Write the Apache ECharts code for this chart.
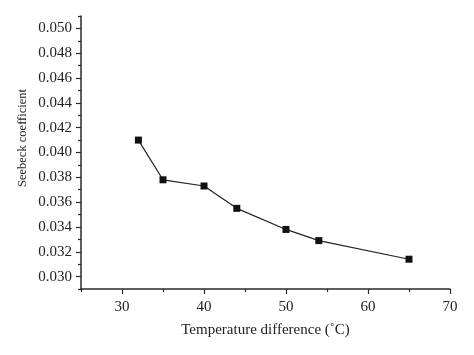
<!DOCTYPE html>
<html>
<head>
<meta charset="utf-8">
<script src="https://cdn.jsdelivr.net/npm/echarts@6/dist/echarts.min.js"></script>
<style>
html,body{margin:0;padding:0;background:#fff;}
#chart{width:474px;height:355px;}
</style>
</head>
<body>
<div id="chart"></div>
<script>
// Data
var temperatureDiff = [32, 35, 40, 44, 50, 54, 65];
var seebeck = [0.0410, 0.0378, 0.0373, 0.0355, 0.0338, 0.0329, 0.0314];

// Tick labels / positions
var xMajorTicks = [30, 40, 50, 60, 70];
var xMinorTicks = [25, 35, 45, 55, 65];
var yMajorTicks = [0.030, 0.032, 0.034, 0.036, 0.038, 0.040, 0.042, 0.044, 0.046, 0.048, 0.050];
var yMinorTicks = [0.029, 0.031, 0.033, 0.035, 0.037, 0.039, 0.041, 0.043, 0.045, 0.047, 0.049, 0.051];

var xTitle = 'Temperature difference (\u02DAC)';
var yTitle = 'Seebeck coefficient';

var FONT = '"Liberation Serif", "DejaVu Serif", serif';
var AX = '#2a2a2a';

var chart = echarts.init(document.getElementById('chart'), null, {renderer: 'canvas'});
var pts = temperatureDiff.map(function (t, i) { return [t, seebeck[i]]; });

chart.setOption({
  animation: false,
  backgroundColor: '#ffffff',
  grid: {left: 81, right: 24, top: 16, bottom: 66, containLabel: false},
  graphic: [{
    type: 'text',
    x: 23, y: 138,
    rotation: Math.PI / 2,
    style: {
      text: yTitle,
      fontFamily: FONT, fontSize: 12.5, fill: '#222',
      align: 'center', verticalAlign: 'middle'
    }
  }],
  xAxis: [{
    type: 'value', min: 25, max: 70, position: 'bottom',
    name: xTitle, nameLocation: 'middle', nameGap: 34,
    nameTextStyle: {fontFamily: FONT, fontSize: 15, color: '#222'},
    axisLine: {show: true, onZero: false, lineStyle: {color: AX, width: 1.5}},
    axisTick: {show: true, customValues: xMajorTicks, length: 5, inside: false, lineStyle: {color: AX, width: 1.2}},
    axisLabel: {show: true, customValues: xMajorTicks, margin: 11, fontFamily: FONT, fontSize: 15, color: '#222'},
    splitLine: {show: false}
  }, {
    type: 'value', min: 25, max: 70, position: 'bottom',
    axisLine: {show: false, onZero: false},
    axisTick: {show: true, customValues: xMinorTicks, length: 3, lineStyle: {color: AX, width: 1.2}},
    axisLabel: {show: false},
    splitLine: {show: false}
  }],
  yAxis: [{
    type: 'value', min: 0.029, max: 0.051, position: 'left',
    axisLine: {show: true, onZero: false, lineStyle: {color: AX, width: 1.5}},
    axisTick: {show: true, customValues: yMajorTicks, length: 5, lineStyle: {color: AX, width: 1.2}},
    axisLabel: {show: true, customValues: yMajorTicks, margin: 9, fontFamily: FONT, fontSize: 15, color: '#222',
      formatter: function (v) { return v.toFixed(3); }},
    splitLine: {show: false}
  }, {
    type: 'value', min: 0.029, max: 0.051, position: 'left',
    axisLine: {show: false, onZero: false},
    axisTick: {show: true, customValues: yMinorTicks, length: 3, lineStyle: {color: AX, width: 1.2}},
    axisLabel: {show: false},
    splitLine: {show: false}
  }],
  series: [{
    type: 'line',
    data: pts,
    xAxisIndex: 0, yAxisIndex: 0,
    symbol: 'rect', symbolSize: 7,
    itemStyle: {color: '#111'},
    lineStyle: {color: '#222', width: 1.2},
    showSymbol: true
  }]
});
</script>
</body>
</html>
